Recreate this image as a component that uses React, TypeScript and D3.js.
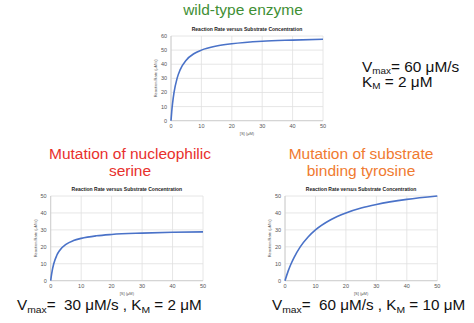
import React from "react";
import * as d3 from "d3";

const sValues = [0, 0.25, 0.5, 1, 2, 3, 5, 7.5, 10, 15, 20, 30, 40, 50];
const wildRates = [0, 6.7, 12, 20, 30, 36, 42.9, 47.4, 50, 52.9, 54.5, 56.3, 57.1, 57.7];
const serineRates = [0, 3.3, 6, 10, 15, 18, 21.4, 23.7, 25, 26.5, 27.3, 28.1, 28.6, 28.8];
const sValuesTyr = [0, 1, 2, 3, 5, 7.5, 10, 15, 20, 25, 30, 40, 50];
const tyrosineRates = [0, 5.5, 10, 13.8, 20, 25.7, 30, 36, 40, 42.9, 45, 48, 50];
const xTicks = [0, 10, 20, 30, 40, 50];
const yTicksTop = [0, 10, 20, 30, 40, 50, 60];
const yTicksBottom = [0, 10, 20, 30, 40, 50];

const FONT = "'Liberation Sans', Arial, Helvetica, sans-serif";
const NB = "\u00a0";

type ChartProps = {
  left: number; right: number; top: number; bottom: number;
  xs: number[]; ys: number[]; yMax: number; yTicks: number[];
};

function Chart({ left, right, top, bottom, xs, ys, yMax, yTicks }: ChartProps) {
  const x = d3.scaleLinear().domain([0, 50]).range([left, right]);
  const y = d3.scaleLinear().domain([0, yMax]).range([bottom, top]);
  const line = d3.line<number>().x((_, i) => x(xs[i])).y((d) => y(d)).curve(d3.curveMonotoneX);
  return (
    <g fontFamily={FONT}>
      <text x={(left + right) / 2} y={top - 5} textAnchor="middle" fontSize={5} fontWeight="bold" fill="#222">
        Reaction Rate versus Substrate Concentration
      </text>
      {xTicks.map((t) => (
        <line key={"vx" + t} x1={x(t)} x2={x(t)} y1={top} y2={bottom} stroke="#e0e0e0" strokeWidth={0.8} />
      ))}
      {yTicks.map((t) => (
        <line key={"hy" + t} x1={left} x2={right} y1={y(t)} y2={y(t)} stroke="#e0e0e0" strokeWidth={0.8} />
      ))}
      <line x1={left} x2={left} y1={top} y2={bottom} stroke="#c8c8c8" strokeWidth={0.8} />
      <line x1={left} x2={right} y1={bottom} y2={bottom} stroke="#c8c8c8" strokeWidth={0.8} />
      {xTicks.map((t) => (
        <text key={"tx" + t} x={x(t)} y={bottom + 7} textAnchor="middle" fontSize={5.5} fill="#555">{t}</text>
      ))}
      {yTicks.map((t) => (
        <text key={"ty" + t} x={left - 4} y={y(t) + 2} textAnchor="end" fontSize={5.5} fill="#555">{t}</text>
      ))}
      <text x={(left + right) / 2} y={bottom + 14} textAnchor="middle" fontSize={4} fill="#555">[S] (μM)</text>
      <text transform={`translate(${left - 14},${(top + bottom) / 2}) rotate(-90)`} textAnchor="middle" fontSize={4} fill="#555">
        Reaction Rate (μM/s)
      </text>
      <path d={line(ys) || ""} fill="none" stroke="#4a72c8" strokeWidth={1.6} />
    </g>
  );
}

export default function App() {
  return (
    <svg width={474} height={323} style={{ position: "absolute", left: 0, top: 0, background: "#fff" }} fontFamily={FONT}>
      <rect width={474} height={323} fill="#fff" />
      <text x={243} y={15} textAnchor="middle" fontSize={15.5} fill="#3f8f35">wild-type enzyme</text>
      <Chart left={171} right={323} top={36} bottom={120.7} xs={sValues} ys={wildRates} yMax={60} yTicks={yTicksTop} />
      <g transform="translate(362,72) scale(1.1,1)">
        <text x={0} y={0} fontSize={14} fill="#111">
          V<tspan fontSize={9} dy={2}>max</tspan><tspan dy={-2}>= 60 μM/s</tspan>
        </text>
      </g>
      <g transform="translate(362,87) scale(1.1,1)">
        <text x={0} y={0} fontSize={14} fill="#111">
          K<tspan fontSize={9} dy={2}>M</tspan><tspan dy={-2}> = 2 μM</tspan>
        </text>
      </g>

      <text x={130} y={159} textAnchor="middle" fontSize={15.5} fill="#e8302c">Mutation of nucleophilic</text>
      <text x={130} y={176} textAnchor="middle" fontSize={15.5} fill="#e8302c">serine</text>
      <Chart left={50.7} right={203} top={196} bottom={280.7} xs={sValues} ys={serineRates} yMax={50} yTicks={yTicksBottom} />
      <g transform="translate(17,310) scale(1.09,1)">
        <text x={0} y={0} fontSize={14} fill="#111">
          V<tspan fontSize={9.5} dy={2.5}>max</tspan><tspan dy={-2.5}>{"=" + NB + NB + "30 μM/s , K"}</tspan><tspan fontSize={9.5} dy={2.5}>M</tspan><tspan dy={-2.5}> = 2 μM</tspan>
        </text>
      </g>

      <text x={361} y={159} textAnchor="middle" fontSize={15.5} fill="#f07a30">Mutation of substrate</text>
      <text x={361} y={176} textAnchor="middle" fontSize={15.5} fill="#f07a30">binding tyrosine</text>
      <Chart left={285} right={437.3} top={196} bottom={280.7} xs={sValuesTyr} ys={tyrosineRates} yMax={50} yTicks={yTicksBottom} />
      <g transform="translate(272,310) scale(1.09,1)">
        <text x={0} y={0} fontSize={14} fill="#111">
          V<tspan fontSize={9.5} dy={2.5}>max</tspan><tspan dy={-2.5}>{"=" + NB + NB + "60 μM/s , K"}</tspan><tspan fontSize={9.5} dy={2.5}>M</tspan><tspan dy={-2.5}> = 10 μM</tspan>
        </text>
      </g>
    </svg>
  );
}
